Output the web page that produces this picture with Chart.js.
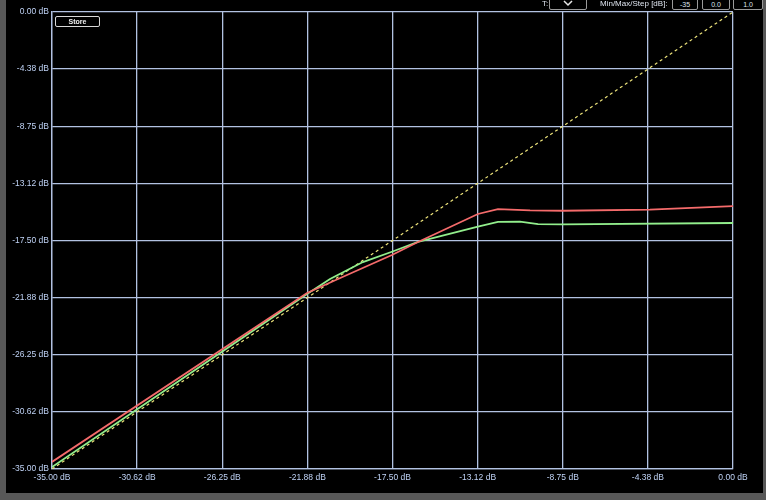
<!DOCTYPE html>
<html>
<head>
<meta charset="utf-8">
<script src="https://cdn.jsdelivr.net/npm/chart.js@4/dist/chart.umd.min.js"></script>
<style>
  html, body { margin: 0; padding: 0; background: #000; }
  body { width: 766px; height: 500px; position: relative; overflow: hidden; font-family: "Liberation Sans", Arial, sans-serif; }
  #wrap { position: absolute; left: 0; top: 0; width: 766px; height: 500px; }
  .frameL { position: absolute; left: 0; top: 0; width: 6px; height: 500px; background: #585858; }
  .frameR { position: absolute; right: 0; top: 0; width: 3px; height: 500px; background: #585858; }
  .frameB { position: absolute; left: 0; bottom: 0; width: 766px; height: 7px; background: #585858; }
  .ctl { position: absolute; color: #dde3ee; font-size: 8px; white-space: nowrap; }
  .box { position: absolute; top: -3px; height: 13px; border: 1px solid #9a9a9a; border-radius: 2px; background: #000;
         color: #dde3ee; font-size: 7px; text-align: center; line-height: 14px; box-sizing: border-box; }
  .store { position: absolute; left: 55px; top: 16px; width: 45px; height: 11px; border: 1px solid #d8d8d8; border-radius: 2px;
           color: #f0f0f0; font-size: 7px; font-weight: bold; text-align: center; line-height: 10px; box-sizing: border-box; }
</style>
</head>
<body>
<div id="wrap"><canvas id="curveChart" width="766" height="500"></canvas></div>
<div class="frameL"></div>
<div class="frameR"></div>
<div class="frameB"></div>
<div class="ctl" style="left:542px; top:-1px;">T:</div>
<div class="box" style="left:549px; width:38px;">
  <svg width="12" height="8" viewBox="0 0 12 8" style="position:absolute; left:12px; top:1px;">
    <polyline points="2,2 6,6 10,2" fill="none" stroke="#e6e6e6" stroke-width="1.5"/>
  </svg>
</div>
<div class="ctl" style="left:600px; top:-1px;">Min/Max/Step [dB]:</div>
<div class="box" style="left:672px; width:26px;">-35</div>
<div class="box" style="left:702px; width:28px;">0.0</div>
<div class="box" style="left:733px; width:30px;">1.0</div>
<div class="store">Store</div>
<script>
const tickValues = [-35, -30.625, -26.25, -21.875, -17.5, -13.125, -8.75, -4.375, 0];
const xTickLabels = ["-35.00 dB", "-30.62 dB", "-26.25 dB", "-21.88 dB", "-17.50 dB", "-13.12 dB", "-8.75 dB", "-4.38 dB", "0.00 dB"];
const yTickLabels = ["-35.00 dB", "-30.62 dB", "-26.25 dB", "-21.88 dB", "-17.50 dB", "-13.12 dB", "-8.75 dB", "-4.38 dB", "0.00 dB"];

const identityX = [-35, 0];
const identityY = [-35, 0];

const redX = [-35, -21.89, -20.30, -17.53, -16.19, -13.11, -12.08, -10.43, -8.74, -4.27, 0];
const redY = [-34.46, -21.52, -20.45, -18.61, -17.61, -15.47, -15.09, -15.20, -15.22, -15.13, -14.86];

const greenX = [-35, -21.89, -20.71, -19.02, -17.53, -16.19, -13.11, -12.08, -10.95, -10.02, -8.74, 0];
const greenY = [-34.85, -21.60, -20.45, -19.15, -18.36, -17.61, -16.44, -16.08, -16.06, -16.24, -16.26, -16.16];

const toPoints = (xs, ys) => xs.map((x, i) => ({ x: x, y: ys[i] }));

const gridColor = "#b2c2e2";
const labelColor = "#bfd2f5";

const config = {
  type: "scatter",
  data: {
    datasets: [
      {
        label: "Identity",
        data: toPoints(identityX, identityY),
        showLine: true,
        borderColor: "#ece27a",
        borderWidth: 1.2,
        borderDash: [3, 3],
        pointRadius: 0,
        order: 2,
      },
      {
        label: "Green",
        data: toPoints(greenX, greenY),
        showLine: true,
        borderColor: "#92ee8c",
        borderWidth: 1.8,
        pointRadius: 0,
        order: 1,
      },
      {
        label: "Red",
        data: toPoints(redX, redY),
        showLine: true,
        borderColor: "#f56b6b",
        borderWidth: 1.8,
        pointRadius: 0,
        order: 0,
      },
    ],
  },
  options: {
    responsive: false,
    animation: false,
    layout: { padding: { left: 0, top: 12, right: 33, bottom: 0 } },
    scales: {
      x: {
        type: "linear",
        min: -35,
        max: 0,
        afterBuildTicks: (axis) => { axis.ticks = tickValues.map((v) => ({ value: v })); },
        afterFit: (axis) => { axis.height = 31; },
        grid: { color: gridColor, lineWidth: 1.3, drawTicks: false },
        border: { color: gridColor, width: 1.3 },
        ticks: {
          color: labelColor,
          font: { family: "Liberation Sans", size: 8.5 },
          padding: 4,
          maxRotation: 0,
          callback: (v, i) => xTickLabels[i],
        },
      },
      y: {
        type: "linear",
        min: -35,
        max: 0,
        afterBuildTicks: (axis) => { axis.ticks = tickValues.map((v) => ({ value: v })); },
        afterFit: (axis) => { axis.width = 52; },
        grid: { color: gridColor, lineWidth: 1.3, drawTicks: false },
        border: { color: gridColor, width: 1.3 },
        ticks: {
          color: labelColor,
          font: { family: "Liberation Sans", size: 8.5 },
          padding: 3,
          callback: (v, i) => yTickLabels[i],
        },
      },
    },
    plugins: {
      legend: { display: false },
      tooltip: { enabled: false },
    },
  },
};

new Chart(document.getElementById("curveChart"), config);
</script>
</body>
</html>
